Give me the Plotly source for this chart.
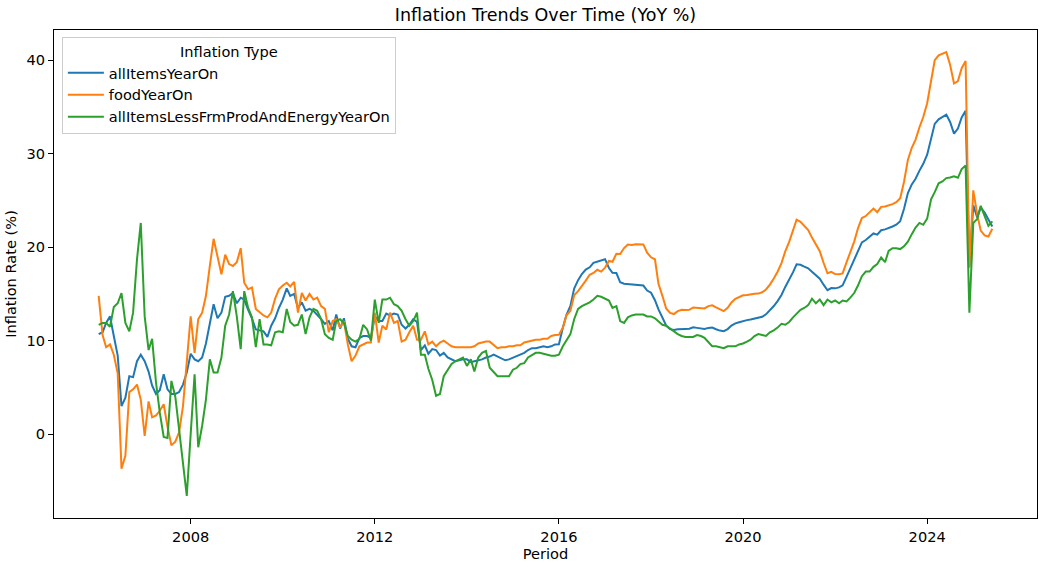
import pandas as pd
import plotly.graph_objects as go

periods = pd.date_range("2006-01-01", periods=234, freq="MS")

all_items_yoy = [
    10.7, 10.9, 11.9, 12.6, 10.5, 8.4, 3.0, 3.9, 6.2, 6.1, 7.8, 8.5,
    7.8, 6.7, 5.2, 4.3, 4.7, 6.4, 4.8, 4.3, 4.3, 4.5, 5.3, 6.6,
    8.6, 8.0, 7.8, 8.2, 9.7, 12.0, 13.9, 12.4, 13.0, 14.7, 14.8, 15.1,
    14.0, 14.6, 14.4, 13.3, 12.4, 11.2, 11.1, 11.0, 10.4, 11.6, 12.4, 13.5,
    14.4, 15.6, 14.8, 15.0, 13.5, 14.1, 13.2, 13.4, 13.2, 12.8, 12.3, 11.8,
    12.1, 11.1, 12.8, 11.3, 12.4, 10.2, 9.4, 9.3, 10.3, 10.5, 10.5, 10.3,
    12.6, 12.1, 12.1, 12.9, 12.7, 12.9, 12.8, 11.7, 11.3, 11.7, 12.3, 12.0,
    9.0, 9.5, 8.6, 9.1, 9.0, 8.4, 8.7, 8.2, 8.0, 7.8, 7.9, 8.0,
    8.0, 7.7, 7.8, 7.9, 8.0, 8.2, 8.3, 8.5, 8.3, 8.1, 7.9, 8.0,
    8.2, 8.4, 8.5, 8.7, 9.0, 9.2, 9.2, 9.3, 9.4, 9.3, 9.4, 9.6,
    9.62, 11.38, 12.77, 13.72, 15.58, 16.48, 17.13, 17.61, 17.85, 18.33, 18.48, 18.55,
    18.72, 17.78, 17.26, 17.24, 16.25, 16.10, 16.05, 16.01, 15.98, 15.91, 15.90, 15.37,
    15.13, 14.33, 13.34, 12.48, 11.61, 11.23, 11.14, 11.23, 11.28, 11.26, 11.28, 11.44,
    11.37, 11.31, 11.25, 11.37, 11.40, 11.22, 11.08, 11.02, 11.24, 11.61, 11.85, 11.98,
    12.13, 12.20, 12.26, 12.34, 12.40, 12.56, 12.82, 13.22, 13.71, 14.23, 14.89, 15.75,
    16.47, 17.33, 18.17, 18.12, 17.93, 17.75, 17.38, 17.01, 16.63, 15.99, 15.40, 15.63,
    15.60, 15.70, 15.92, 16.82, 17.71, 18.60, 19.64, 20.52, 20.77, 21.09, 21.47, 21.34,
    21.82, 21.91, 22.04, 22.22, 22.41, 22.79, 24.08, 25.80, 26.72, 27.33, 28.20, 28.92,
    29.90, 31.70, 33.20, 33.69, 33.95, 34.19, 33.40, 32.15, 32.70, 33.88, 34.60, 18.0,
    24.48, 23.18, 24.23, 23.71, 22.97, 22.22,
]

food_yoy = [
    14.8, 10.6, 9.3, 9.6, 8.5, 6.5, -3.7, -2.3, 4.5, 4.8, 5.3, 3.7,
    -0.2, 3.5, 1.8, 2.0, 2.5, 3.2, 0.8, -1.2, -0.8, 0.2, 3.0, 7.5,
    12.6, 8.7, 12.3, 13.0, 14.8, 18.0, 20.9, 19.0, 17.1, 19.2, 18.2, 18.0,
    18.4, 19.9, 16.2, 15.5, 15.7, 13.4, 13.0, 12.7, 12.5, 13.0, 14.5, 15.5,
    15.9, 16.2, 15.8, 16.3, 13.0, 15.1, 14.3, 15.0, 14.4, 14.6, 13.7, 13.4,
    10.9, 12.1, 12.3, 11.4, 12.1, 9.6, 7.8, 8.4, 9.4, 9.6, 9.8, 9.8,
    13.0, 9.8, 11.6, 11.2, 13.0, 11.9, 12.1, 9.9, 10.1, 10.9, 11.6, 10.1,
    10.1, 11.0, 9.6, 9.9, 9.4, 9.8, 10.0, 9.7, 9.4, 9.3, 9.3, 9.3,
    9.3, 9.3, 9.4, 9.7, 9.8, 9.9, 9.9, 9.5, 9.2, 9.3, 9.3, 9.4,
    9.4, 9.5, 9.5, 9.8, 9.9, 10.0, 10.1, 10.1, 10.2, 10.2, 10.5, 10.6,
    10.64, 11.38, 12.72, 13.20, 14.86, 15.30, 15.80, 16.43, 17.05, 17.24, 17.59, 17.39,
    17.82, 18.53, 18.44, 19.30, 19.27, 19.91, 20.28, 20.25, 20.32, 20.31, 20.30, 19.42,
    18.92, 18.71, 16.08, 14.80, 13.45, 12.98, 12.85, 13.16, 13.31, 13.28, 13.30, 13.56,
    13.51, 13.47, 13.45, 13.70, 13.79, 13.56, 13.39, 13.17, 13.51, 14.09, 14.48, 14.67,
    14.85, 14.90, 14.98, 15.03, 15.04, 15.18, 15.48, 16.00, 16.66, 17.38, 18.30, 19.56,
    20.57, 21.79, 22.95, 22.72, 22.28, 21.83, 21.03, 20.30, 19.57, 18.34, 17.21, 17.37,
    17.13, 17.11, 17.20, 18.37, 19.50, 20.60, 22.02, 23.12, 23.34, 23.72, 24.13, 23.75,
    24.32, 24.35, 24.45, 24.61, 24.82, 25.25, 26.98, 29.34, 30.64, 31.52, 32.84, 33.93,
    35.41, 37.92, 40.01, 40.53, 40.66, 40.87, 39.53, 37.52, 37.77, 39.16, 39.93, 17.8,
    26.08, 23.51, 21.79, 21.26, 21.14, 21.97,
]

core_yoy = [
    11.7, 11.9, 11.9, 11.5, 13.6, 14.0, 15.1, 11.9, 11.0, 13.0, 18.7, 22.6,
    12.6, 9.0, 10.2, 5.5, 2.3, -0.3, -0.4, 5.7, 4.0, 0.3, -3.5, -6.6,
    0.0, 6.4, -1.4, 0.9, 3.7, 8.0, 6.6, 6.6, 8.2, 11.6, 12.8, 15.3,
    12.6, 9.1, 15.3, 13.5, 12.5, 9.3, 12.3, 9.6, 9.6, 9.5, 10.9, 11.0,
    10.9, 13.4, 12.0, 11.6, 11.7, 12.8, 10.7, 12.5, 13.4, 13.2, 12.3, 10.7,
    10.3, 10.1, 12.1, 12.3, 11.9, 10.5, 10.1, 9.9, 10.2, 11.7, 11.2, 10.0,
    14.4, 11.9, 14.4, 14.4, 14.6, 13.9, 13.7, 13.2, 12.3, 11.6, 12.1, 13.0,
    8.5, 8.5, 7.0, 5.8, 4.1, 4.3, 6.2, 6.9, 7.5, 7.8, 8.0, 8.2,
    7.3, 8.0, 6.7, 8.2, 8.7, 8.9, 7.1, 6.6, 6.2, 6.2, 6.2, 6.2,
    6.9, 7.1, 7.5, 7.6, 8.2, 8.5, 8.7, 8.7, 8.6, 8.5, 8.4, 8.4,
    8.5, 9.4, 10.1, 10.7, 12.3, 13.4, 13.7, 13.9, 14.1, 14.4, 14.8, 14.7,
    14.5, 14.3, 13.5, 13.7, 12.1, 11.9, 12.5, 12.7, 12.8, 12.8, 12.8, 12.6,
    12.6, 12.4, 12.1, 11.7, 11.6, 11.3, 11.0, 10.7, 10.5, 10.4, 10.4, 10.4,
    10.6, 10.5, 10.3, 9.8, 9.4, 9.4, 9.3, 9.2, 9.4, 9.4, 9.4, 9.6,
    9.7, 9.9, 10.1, 10.5, 10.7, 10.6, 10.5, 10.9, 11.1, 11.4, 11.8, 11.7,
    12.0, 12.5, 12.9, 13.3, 13.5, 13.8, 14.5, 14.0, 14.4, 13.8, 14.4, 14.1,
    14.3, 14.0, 14.3, 14.2, 14.6, 15.1, 15.9, 16.9, 17.4, 17.4, 17.9, 18.2,
    18.9, 18.4, 19.6, 19.9, 19.9, 19.8, 20.1, 20.6, 21.4, 22.1, 22.6, 22.4,
    23.06, 25.13, 25.90, 26.84, 27.04, 27.40, 27.47, 27.58, 27.43, 28.37, 28.75, 13.0,
    22.59, 23.01, 24.43, 23.39, 22.28, 22.76,
]

series_names = ["allItemsYearOn", "foodYearOn", "allItemsLessFrmProdAndEnergyYearOn"]
series_values = [all_items_yoy, food_yoy, core_yoy]
series_colors = ["#1f77b4", "#ff7f0e", "#2ca02c"]

FONT = "DejaVu Sans"
FS = 14.6
TFS = 17.5

fig = go.Figure()
for name, vals, col in zip(series_names, series_values, series_colors):
    fig.add_trace(go.Scatter(
        x=periods, y=vals, mode="lines", name=name, legendgroup=name,
        line=dict(color=col, width=2),
    ))

# matplotlib-like 5% margins
x0, x1 = periods[0], periods[-1]
xpad = (x1 - x0) * 0.05
allv = all_items_yoy + food_yoy + core_yoy
ymin, ymax = min(allv), max(allv)
ypad = (ymax - ymin) * 0.05

fig.update_layout(
    width=1047, height=569,
    margin=dict(l=54, r=10, t=30, b=51),
    paper_bgcolor="white", plot_bgcolor="white",
    font=dict(family=FONT, size=FS, color="black"),
    title=dict(text="Inflation Trends Over Time (YoY %)", x=0.5, xref="paper",
               y=1 - 14.5 / 569, yref="container", xanchor="center", yanchor="middle",
               font=dict(family=FONT, size=TFS, color="black")),
    showlegend=True,
    legend=dict(
        x=0.008, y=0.986, xanchor="left", yanchor="top",
        bgcolor="rgba(255,255,255,0.8)", bordercolor="#cccccc", borderwidth=1,
        font=dict(family=FONT, size=FS, color="black"),
        title=dict(text="Inflation Type", side="top center",
                   font=dict(family=FONT, size=FS, color="black")),
        tracegroupgap=0, itemwidth=36,
    ),
)

fig.update_xaxes(
    range=[x0 - xpad, x1 + xpad],
    tickmode="linear", tick0="2008-01-01", dtick="M48", tickformat="%Y",
    showline=True, linecolor="black", linewidth=1, mirror=True,
    ticks="outside", ticklen=5, tickwidth=1, tickcolor="black",
    showgrid=False, zeroline=False,
    title=dict(text="Period", standoff=5, font=dict(family=FONT, size=FS)),
)
fig.update_yaxes(
    range=[ymin - ypad, ymax + ypad],
    tickmode="linear", tick0=0, dtick=10,
    showline=True, linecolor="black", linewidth=1, mirror=True,
    ticks="outside", ticklen=5, tickwidth=1, tickcolor="black",
    showgrid=False, zeroline=False,
    title=dict(text="Inflation Rate (%)", standoff=6, font=dict(family=FONT, size=FS)),
)

fig.write_html("out.html")
